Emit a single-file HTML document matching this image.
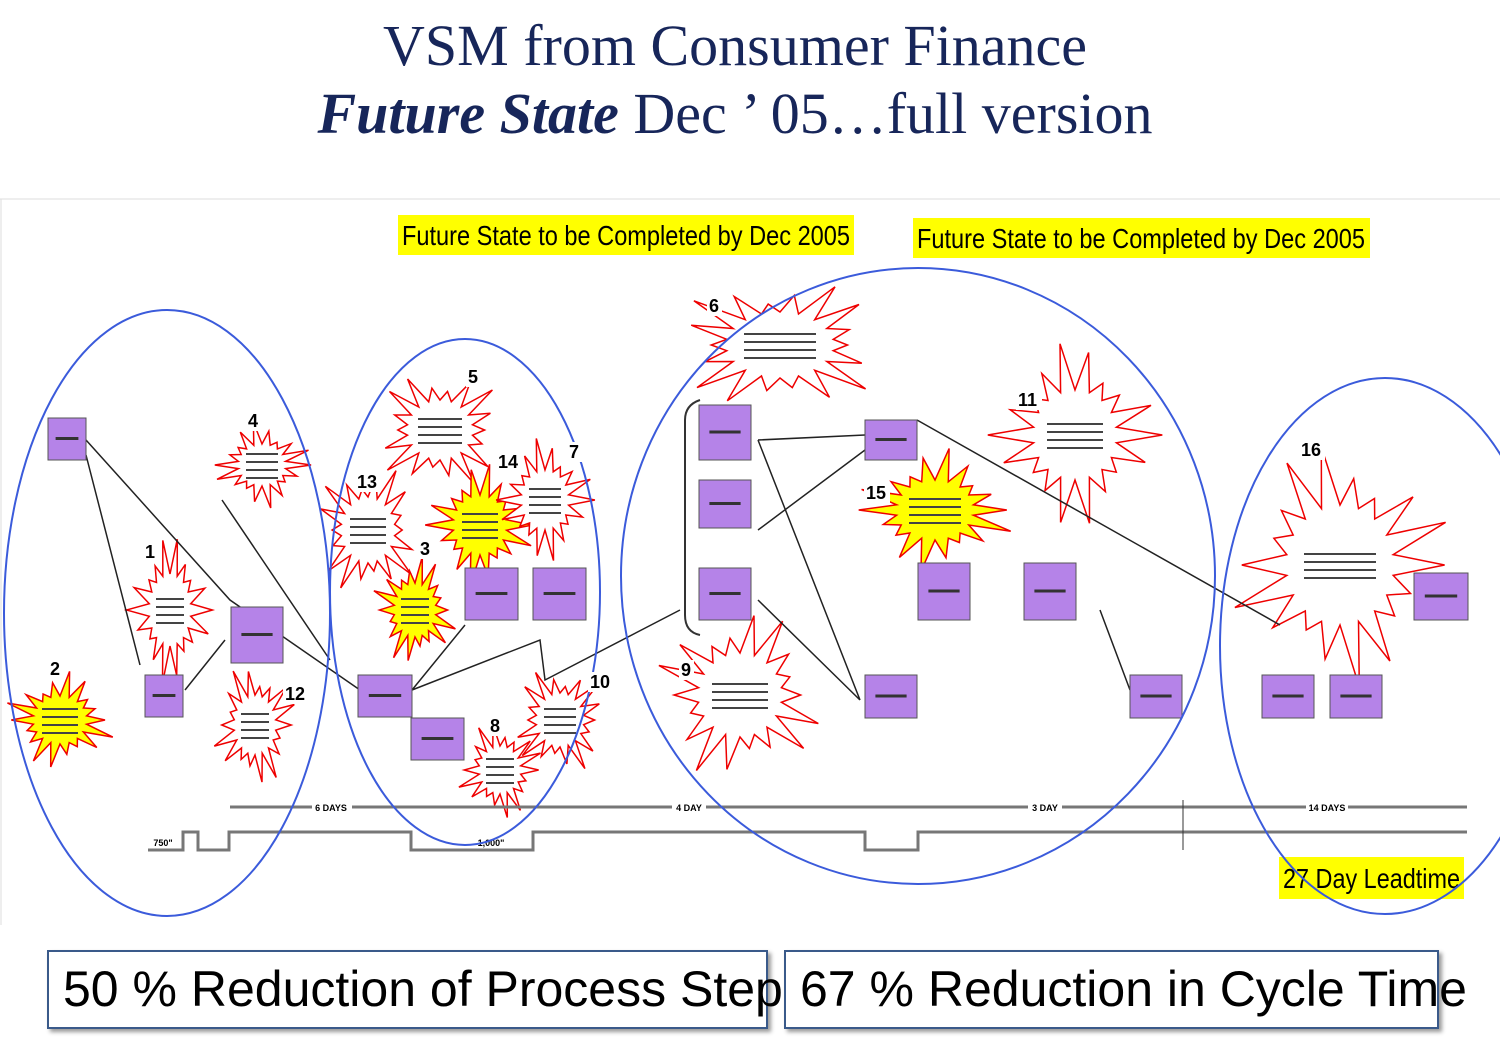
<!DOCTYPE html>
<html><head><meta charset="utf-8"><style>
body{margin:0;width:1500px;height:1045px;background:#fff;overflow:hidden;position:relative;font-family:"Liberation Sans",sans-serif}
.t{position:absolute;left:0;width:1470px;text-align:center;font-family:"Liberation Serif",serif;color:#17265a;font-size:58px}
.box{position:absolute;top:950px;height:75px;border:2px solid #3a5a8a;box-shadow:3px 3px 4px #999;background:#fff;font-size:50px;line-height:75px;white-space:nowrap;color:#000}
</style></head><body>
<div class="t" style="top:12px">VSM from Consumer Finance</div>
<div class="t" style="top:80px"><b><i>Future State</i></b> Dec ’ 05…full version</div>
<svg id="s" width="1500" height="1045" style="position:absolute;left:0;top:0" font-family="Liberation Sans,sans-serif">
<line x1="0" y1="199" x2="1500" y2="199" stroke="#ddd"/>
<line x1="1" y1="199" x2="1" y2="925" stroke="#ddd"/>
<rect x="398" y="215" width="456" height="40" fill="#ffff00"/>
<text x="402" y="245" font-size="28" textLength="448" lengthAdjust="spacingAndGlyphs">Future State to be Completed by Dec 2005</text>
<rect x="913" y="218" width="457" height="40" fill="#ffff00"/>
<text x="917" y="248" font-size="28" textLength="448" lengthAdjust="spacingAndGlyphs">Future State to be Completed by Dec 2005</text>
<rect x="1279" y="857" width="185" height="42" fill="#ffff00"/>
<text x="1283" y="888" font-size="28" textLength="177" lengthAdjust="spacingAndGlyphs">27 Day Leadtime</text>
<g id="stars"></g>
<g stroke="#222" stroke-width="1.5" fill="none">
<path d="M86,440 L230,600 L360,690 M222,500 L330,660 M86,455 L140,665 M185,690 L225,640 M412,690 L465,625 M412,690 L540,640 L545,680 L680,610 M758,440 L865,435 M758,440 L860,700 M758,530 L865,450 M758,600 L860,700 M917,420 L1280,625 M1100,610 L1130,690"/>
</g>
<g stroke="#777" stroke-width="3" fill="none">
<path d="M230,807H1467"/>
<path d="M148,850H183V832H198V850H229V832H411V850H533V832H865V850H918V832H1467"/>
</g>
<line x1="1183" y1="800" x2="1183" y2="850" stroke="#333"/>
<g font-size="9" font-weight="bold" text-anchor="middle"><rect x="312" y="801" width="40" height="12" fill="#fff"/><text x="331" y="811">6 DAYS</text>
<rect x="672" y="801" width="34" height="12" fill="#fff"/><text x="689" y="811">4 DAY</text>
<rect x="1028" y="801" width="34" height="12" fill="#fff"/><text x="1045" y="811">3 DAY</text>
<rect x="1306" y="801" width="42" height="12" fill="#fff"/><text x="1327" y="811">14 DAYS</text>
<text x="163" y="846">750"</text><text x="491" y="846">1,000"</text></g>
<g id="boxes" fill="#b583e8" stroke="#555" stroke-width="1"></g>
<g fill="none" stroke="#3b5bdb" stroke-width="2">
<ellipse cx="167" cy="613" rx="163" ry="303"/>
<ellipse cx="465" cy="592" rx="135" ry="253"/>
<ellipse cx="918" cy="576" rx="297" ry="308"/>
<ellipse cx="1385" cy="646" rx="165" ry="268"/>
</g>
<path d="M700,400 Q685,405 685,420 V615 Q685,632 700,635" fill="none" stroke="#333" stroke-width="2"/>
<g id="nums" font-size="18" font-weight="bold"></g>
</svg>
<div class="box" style="left:47px;width:717px"><span style="padding-left:14px">50 % Reduction of Process Steps</span></div>
<div class="box" style="left:784px;width:651px;overflow:visible"><span style="padding-left:14px">67 % Reduction in Cycle Time</span></div>
<script>
var NS="http://www.w3.org/2000/svg";
function el(p,t,a,txt){var e=document.createElementNS(NS,t);for(var k in a)e.setAttribute(k,a[k]);if(txt)e.textContent=txt;p.appendChild(e);return e;}
var stars=[[60,720,45,40,1],[170,610,35,60,0],[262,465,40,35,0],[255,725,35,50,0],[440,430,55,50,0],[368,530,45,55,0],[415,610,35,45,1],[480,525,45,50,1],[545,500,40,50,0],[500,770,35,40,0],[560,720,40,45,0],[780,345,90,55,0],[740,695,70,70,0],[935,510,65,50,1],[1075,435,70,75,0],[1340,565,90,100,0]];
var g=document.getElementById('stars');
stars.forEach(function(s,i){var n=18,pts=[];for(var j=0;j<n*2;j++){var a=j*Math.PI/n,r=j%2?0.6:(1+0.25*Math.sin(j*7+i));pts.push((s[0]+Math.cos(a)*s[2]*r).toFixed(1)+","+(s[1]+Math.sin(a)*s[3]*r).toFixed(1));}
el(g,'polygon',{points:pts.join(' '),fill:s[4]?'#ffff00':'#fff',stroke:'#e00','stroke-width':1.5});
for(var k=0;k<4;k++)el(g,'rect',{x:s[0]-s[2]*0.4,y:s[1]-12+k*8,width:s[2]*0.8,height:2,fill:'#444'});});
var B=[[48,418,38,42],[145,675,38,42],[231,607,52,56],[358,675,54,42],[411,718,53,42],[465,568,53,52],[533,568,53,52],[699,405,52,55],[699,480,52,48],[699,568,52,52],[865,420,52,40],[865,675,52,43],[918,563,52,57],[1024,563,52,57],[1130,675,52,43],[1262,675,52,43],[1330,675,52,43],[1414,573,54,47]];
var bg=document.getElementById('boxes');
B.forEach(function(b){el(bg,'rect',{x:b[0],y:b[1],width:b[2],height:b[3]});el(bg,'rect',{x:b[0]+b[2]*0.2,y:b[1]+b[3]/2-2,width:b[2]*0.6,height:3,fill:'#333',stroke:'none'});});
var N=[["1",145,558],["2",50,675],["3",420,555],["4",248,427],["5",468,383],["6",709,312],["7",569,458],["8",490,732],["9",681,676],["10",590,688],["11",1018,406],["12",285,700],["13",357,488],["14",498,468],["15",866,499],["16",1301,456]];
var ng=document.getElementById('nums');
N.forEach(function(n){el(ng,'rect',{x:n[1]-2,y:n[2]-16,width:n[0].length*11+4,height:20,fill:'#fff'});el(ng,'text',{x:n[1],y:n[2]},n[0]);});
</script>
</body></html>
